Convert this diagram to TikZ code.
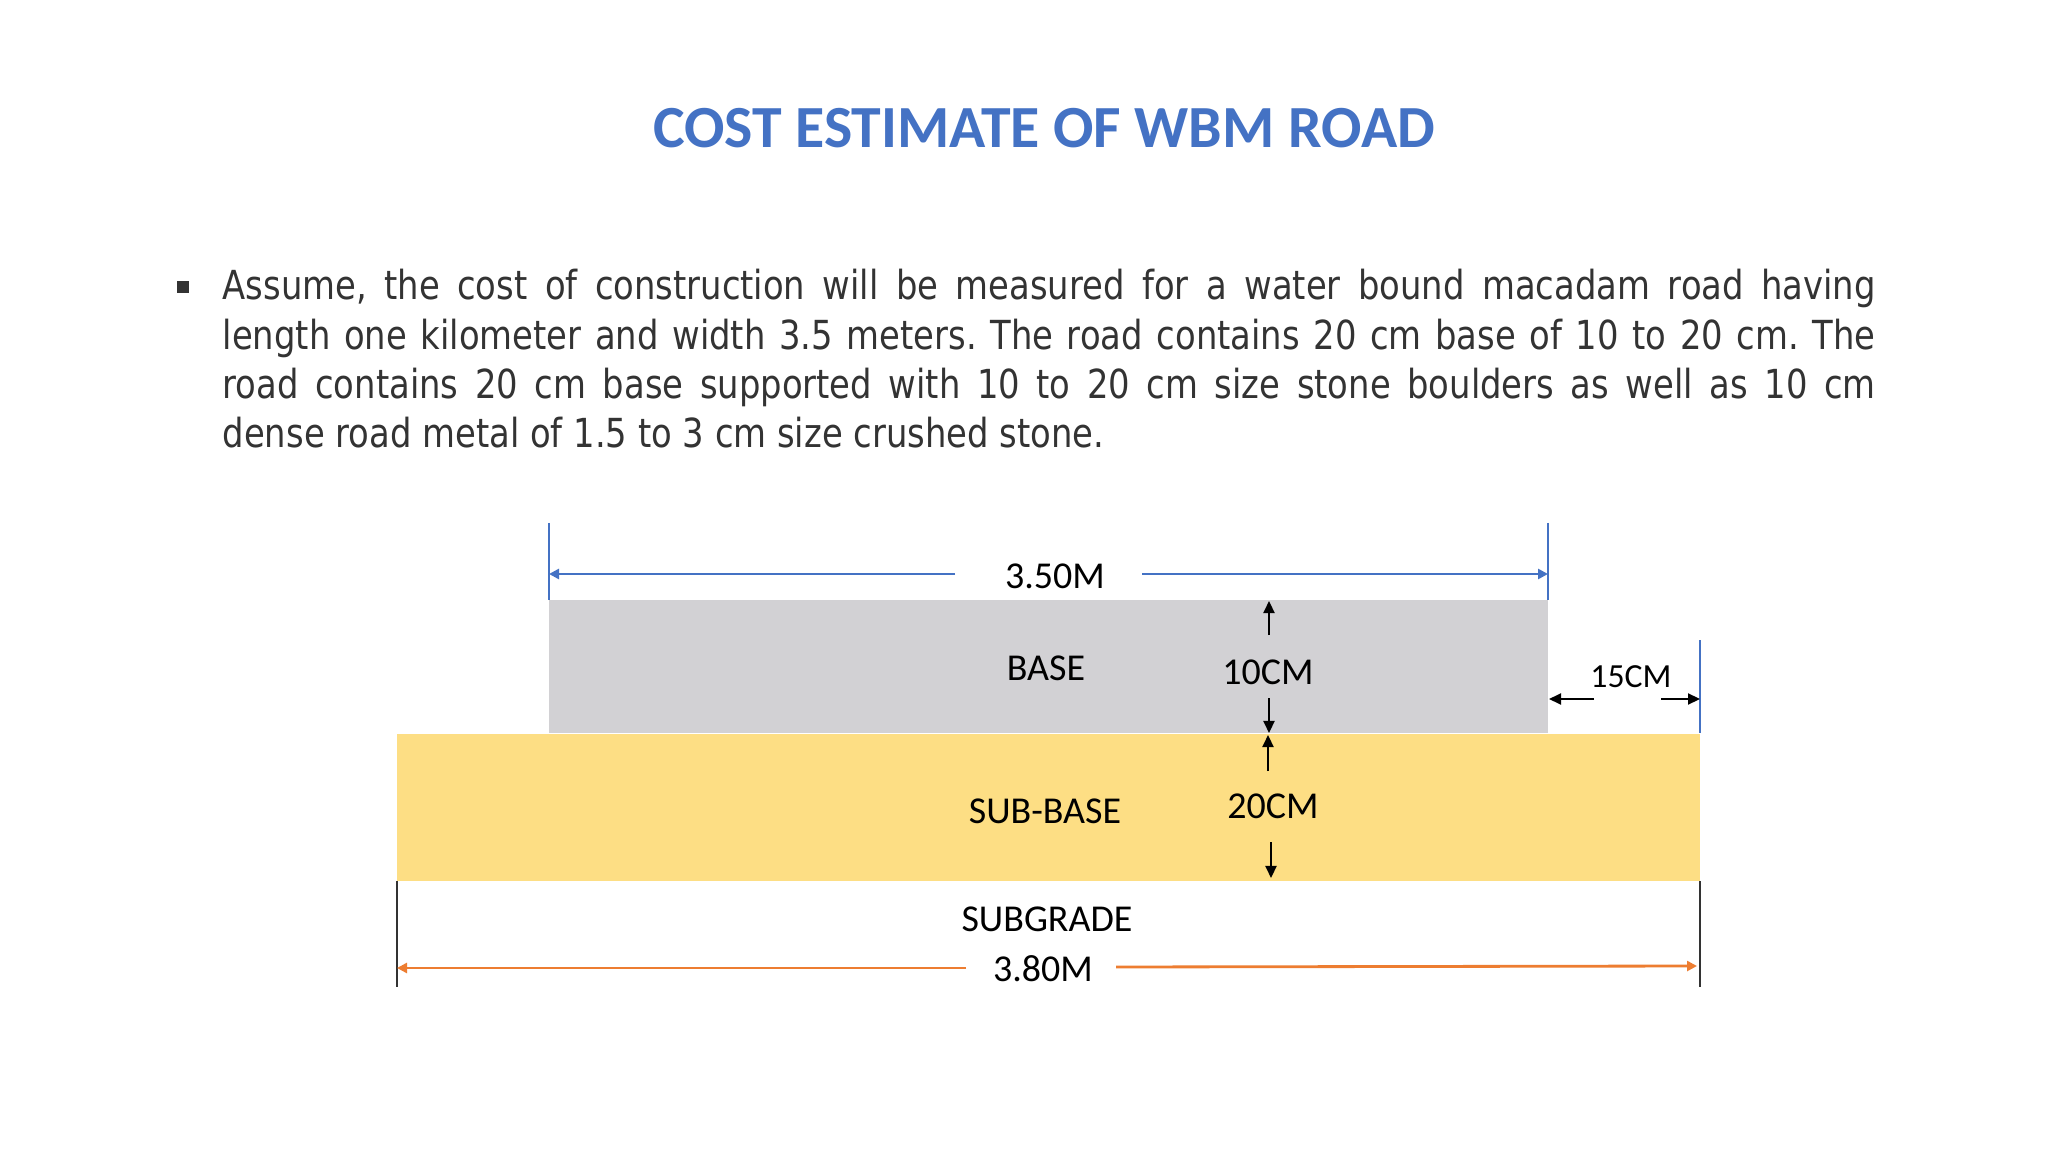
\documentclass[tikz,border=0pt]{standalone}
\usepackage{fontspec}
\setmainfont{Carlito}
\newfontfamily\bodyfont[FakeStretch=0.845]{DejaVu Sans}
\usetikzlibrary{arrows.meta}
\definecolor{titleblue}{HTML}{4472C4}
\definecolor{bodygray}{HTML}{333333}
\definecolor{basegray}{HTML}{D2D1D4}
\definecolor{subyellow}{HTML}{FDDE84}
\definecolor{dimorange}{HTML}{ED7D31}
\definecolor{dimblue}{HTML}{4472C4}
\frenchspacing
\begin{document}
\begin{tikzpicture}[x=0.01cm,y=-0.01cm,
  lbl/.style={font=\fontsize{10.8}{12}\selectfont, inner sep=0, anchor=base, text=black},
  smalllbl/.style={font=\fontsize{9.6}{11}\selectfont, inner sep=0, anchor=base, text=black},
  blackdim/.style={-{Triangle[length=0.12cm,width=0.11cm]}, line width=0.6pt, black},
  bluedim/.style={-{Triangle[length=0.10cm,width=0.10cm]}, line width=0.8pt, dimblue},
  orangedim/.style={-{Triangle[length=0.10cm,width=0.10cm]}, line width=0.8pt, dimorange},
  blueext/.style={line width=0.3pt, dimblue},
  blackext/.style={line width=0.3pt, black!80},
]
\useasboundingbox[fill=white] (0,0) rectangle (2048,1152);

% title
\node[font=\fontsize{17}{20}\selectfont\bfseries, text=titleblue, inner sep=0, anchor=base] (title) at (1044,148) {COST ESTIMATE OF WBM ROAD};

% bullet and body text
\fill[bodygray] (177,281) rectangle (189,293);
\node[anchor=base west, inner sep=0, text width=16.52cm, align=justify, text=bodygray,
      font=\bodyfont\fontsize{11.38}{13.94}\selectfont] (body) at (222,300)
 {\frenchspacing Assume, the cost of construction will be measured for a water bound macadam road having\linebreak
  length one kilometer and width 3.5 meters. The road contains 20 cm base of 10 to 20 cm. The\linebreak
  road contains 20 cm base supported with 10 to 20 cm size stone boulders as well as 10 cm\linebreak
  dense road metal of 1.5 to 3 cm size crushed stone.};

% layers
\fill[basegray] (549,600) rectangle (1548,733);
\fill[subyellow] (397,734) rectangle (1700,881);

% extension lines
\coordinate (eL1) at (549,523); \coordinate (eL2) at (549,600);
\coordinate (eR1) at (1548,523); \coordinate (eR2) at (1548,600);
\coordinate (eS1) at (1700,640); \coordinate (eS2) at (1700,733);
\coordinate (gL1) at (397,881); \coordinate (gL2) at (397,987);
\coordinate (gR1) at (1700,881); \coordinate (gR2) at (1700,987);
\draw[blueext] (eL1) -- (eL2);
\draw[blueext] (eR1) -- (eR2);
\draw[blueext] (eS1) -- (eS2);
\draw[blackext] (gL1) -- (gL2);
\draw[blackext] (gR1) -- (gR2);

% labels
\node[lbl] (w350) at (1055,588) {3.50M};
\node[lbl] (base) at (1046,680) {BASE};
\node[lbl] (t10) at (1268,684) {10CM};
\node[smalllbl] (t15) at (1631,687) {15CM};
\node[lbl] (subbase) at (1045,823) {SUB-BASE};
\node[lbl] (t20) at (1273,818) {20CM};
\node[lbl] (subgrade) at (1047,931) {SUBGRADE};
\node[lbl] (w380) at (1043,981) {3.80M};

% 3.50M dimension
\coordinate (a1s) at (955,574); \coordinate (a1e) at (549,574);
\coordinate (a2s) at (1142,574); \coordinate (a2e) at (1548,574);
\draw[bluedim] (a1s) -- (a1e);
\draw[bluedim] (a2s) -- (a2e);

% 10CM
\coordinate (u1s) at (1269,635); \coordinate (u1e) at (1269,601);
\coordinate (d1s) at (1269,698); \coordinate (d1e) at (1269,733);
\draw[blackdim] (u1s) -- (u1e);
\draw[blackdim] (d1s) -- (d1e);

% 20CM
\coordinate (u2s) at (1268,771); \coordinate (u2e) at (1268,735);
\coordinate (d2s) at (1271,842); \coordinate (d2e) at (1271,878);
\draw[blackdim] (u2s) -- (u2e);
\draw[blackdim] (d2s) -- (d2e);

% 15CM
\coordinate (l15s) at (1594,699); \coordinate (l15e) at (1549,699);
\coordinate (r15s) at (1661,699); \coordinate (r15e) at (1700,699);
\draw[blackdim] (l15s) -- (l15e);
\draw[blackdim] (r15s) -- (r15e);

% 3.80M dimension
\coordinate (o1s) at (966,968); \coordinate (o1e) at (397,968);
\coordinate (o2s) at (1116,967); \coordinate (o2e) at (1697,966);
\draw[orangedim] (o1s) -- (o1e);
\draw[orangedim] (o2s) -- (o2e);
\end{tikzpicture}
\end{document}
